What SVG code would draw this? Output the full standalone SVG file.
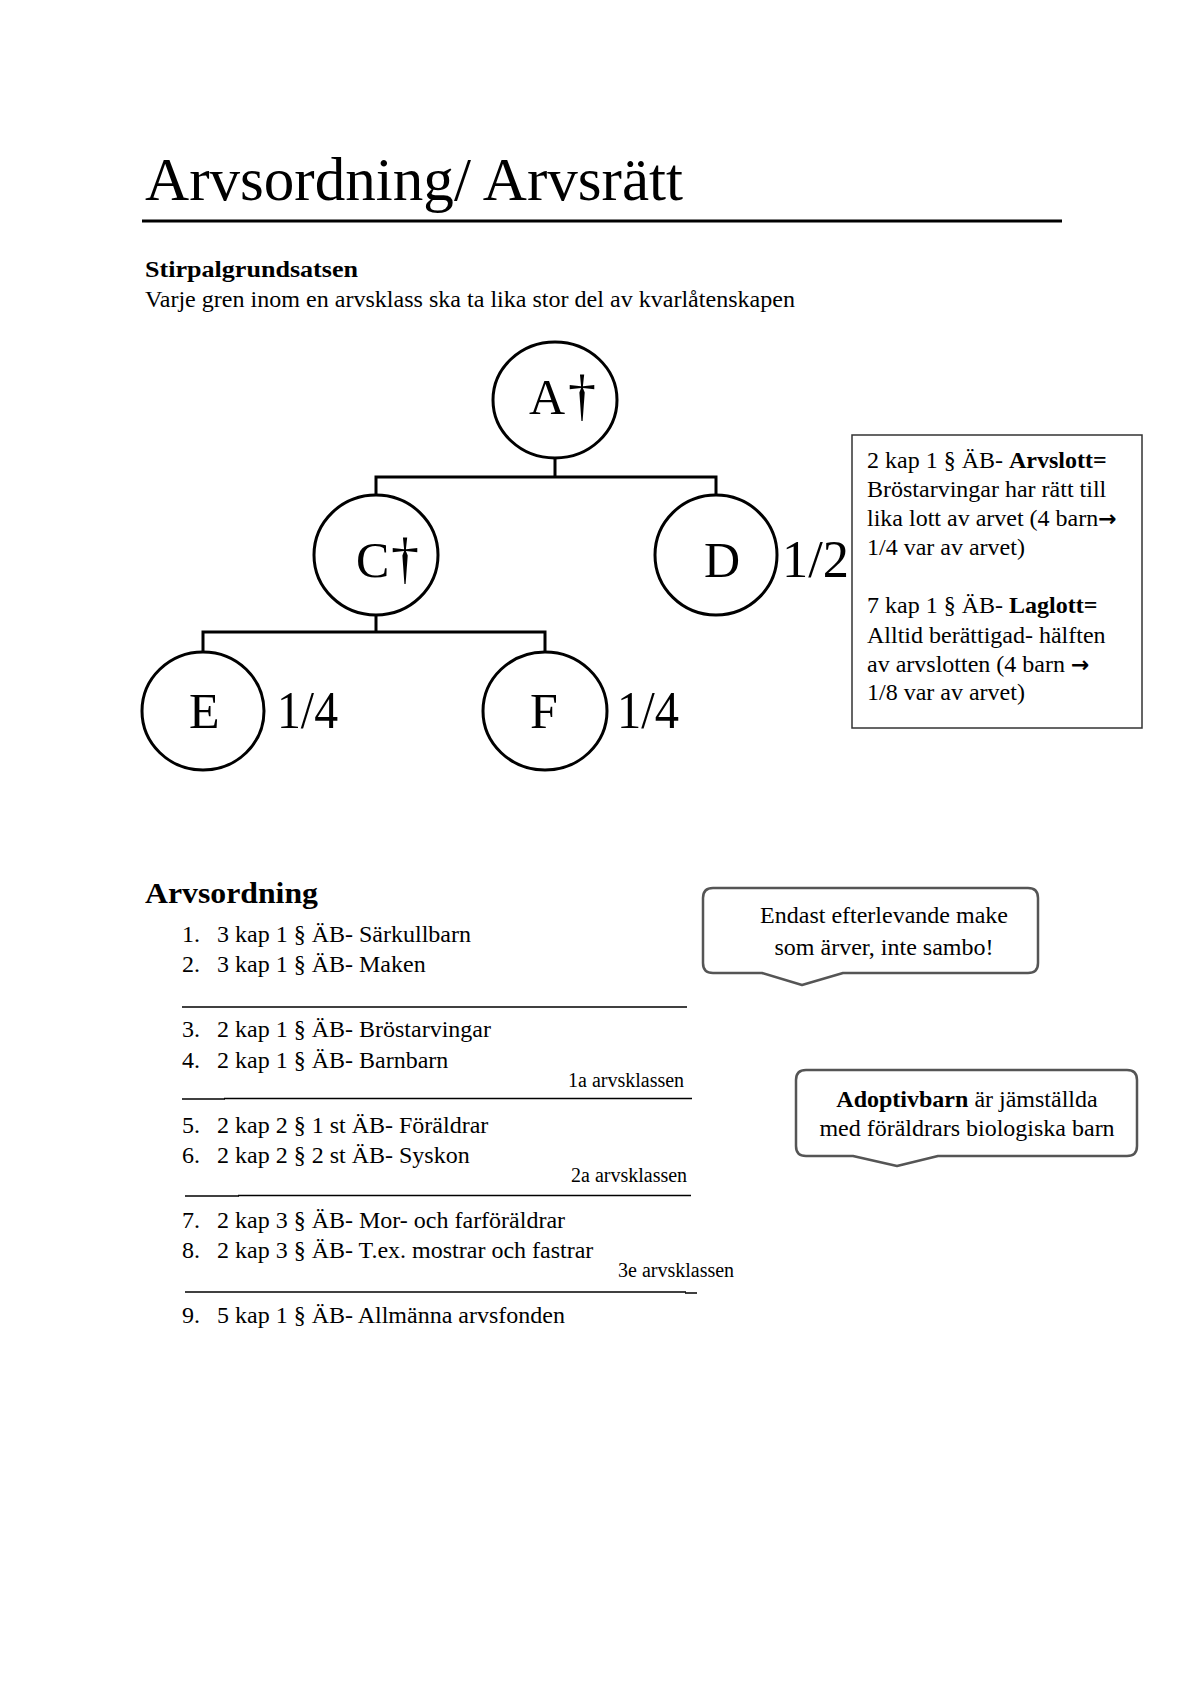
<svg xmlns="http://www.w3.org/2000/svg" width="1200" height="1698" viewBox="0 0 1200 1698">
<style>
text{font-family:"Liberation Serif","Times New Roman",serif;fill:#000}
.b{font-size:24px}
.sm{font-size:20px}
.big{font-size:50px}
.frac{font-size:52px}
.dag{font-size:56px}
.arr{font-family:"DejaVu Sans",sans-serif;font-weight:bold;font-size:22px}
.node{fill:#fff;stroke:#000;stroke-width:3}
.conn{fill:none;stroke:#000;stroke-width:3;stroke-linecap:square}
.rule{stroke:#000;stroke-width:1.5}
.bubble{fill:#fff;stroke:#555;stroke-width:2.5;stroke-linejoin:round}
.mid{text-anchor:middle}
</style>
<rect width="1200" height="1698" fill="#fff"/>
<g id="header">
<text x="145" y="200" font-size="61" textLength="538" lengthAdjust="spacingAndGlyphs">Arvsordning/ Arvsrätt</text>
<line x1="142" y1="221" x2="1062" y2="221" stroke="#000" stroke-width="3"/>
<text x="145" y="277" class="b" font-weight="bold" textLength="213" lengthAdjust="spacingAndGlyphs">Stirpalgrundsatsen</text>
<text x="145" y="307" class="b" textLength="650" lengthAdjust="spacingAndGlyphs">Varje gren inom en arvsklass ska ta lika stor del av kvarlåtenskapen</text>
</g>
<g id="connectors">
<path class="conn" d="M555 458V477M376 477H716M376 477V495M716 477V495"/>
<path class="conn" d="M376 615V632M203 632H545M203 632V652M545 632V652"/>
</g>
<g id="node-A">
<ellipse class="node" cx="555" cy="400" rx="62" ry="58"/>
<text x="529" y="414" class="big">A</text>
<text x="568" y="414" class="dag">†</text>
</g>
<g id="node-C">
<ellipse class="node" cx="376" cy="555" rx="62" ry="60"/>
<text x="356" y="577" class="big">C</text>
<text x="391" y="577" class="dag">†</text>
</g>
<g id="node-D">
<ellipse class="node" cx="716" cy="555" rx="61" ry="60"/>
<text x="704" y="577" class="big">D</text>
<text x="782" y="577" class="frac" textLength="67" lengthAdjust="spacingAndGlyphs">1/2</text>
</g>
<g id="node-E">
<ellipse class="node" cx="203" cy="711" rx="61" ry="59"/>
<text x="189" y="728" class="big">E</text>
<text x="277" y="728" class="frac" textLength="61" lengthAdjust="spacingAndGlyphs">1/4</text>
</g>
<g id="node-F">
<ellipse class="node" cx="545" cy="711" rx="62" ry="59"/>
<text x="530" y="728" class="big">F</text>
<text x="617" y="728" class="frac" textLength="62" lengthAdjust="spacingAndGlyphs">1/4</text>
</g>
<g id="info-box">
<rect x="852" y="435" width="290" height="293" fill="#fff" stroke="#333" stroke-width="1.5"/>
<text x="867" y="468" class="b">2 kap 1 § ÄB- <tspan font-weight="bold">Arvslott=</tspan></text>
<text x="867" y="497" class="b">Bröstarvingar har rätt till</text>
<text x="867" y="526" class="b">lika lott av arvet (4 barn<tspan class="arr">→</tspan></text>
<text x="867" y="555" class="b">1/4 var av arvet)</text>
<text x="867" y="613" class="b">7 kap 1 § ÄB- <tspan font-weight="bold">Laglott=</tspan></text>
<text x="867" y="643" class="b">Alltid berättigad- hälften</text>
<text x="867" y="672" class="b">av arvslotten (4 barn <tspan class="arr">→</tspan></text>
<text x="867" y="700" class="b">1/8 var av arvet)</text>
</g>
<g id="arvsordning-list">
<text x="145" y="903" font-size="30" font-weight="bold" textLength="173" lengthAdjust="spacingAndGlyphs">Arvsordning</text>
<text x="182" y="942" class="b">1.</text><text x="217" y="942" class="b">3 kap 1 § ÄB- Särkullbarn</text>
<text x="182" y="972" class="b">2.</text><text x="217" y="972" class="b">3 kap 1 § ÄB- Maken</text>
<line class="rule" x1="182" y1="1007" x2="687" y2="1007"/>
<text x="182" y="1037" class="b">3.</text><text x="217" y="1037" class="b">2 kap 1 § ÄB- Bröstarvingar</text>
<text x="182" y="1068" class="b">4.</text><text x="217" y="1068" class="b">2 kap 1 § ÄB- Barnbarn</text>
<text x="568" y="1087" class="sm">1a arvsklassen</text>
<line class="rule" x1="182" y1="1099" x2="225" y2="1099"/>
<line class="rule" x1="224" y1="1098.5" x2="692" y2="1098.5"/>
<text x="182" y="1133" class="b">5.</text><text x="217" y="1133" class="b">2 kap 2 § 1 st ÄB- Föräldrar</text>
<text x="182" y="1163" class="b">6.</text><text x="217" y="1163" class="b">2 kap 2 § 2 st ÄB- Syskon</text>
<text x="571" y="1182" class="sm">2a arvsklassen</text>
<line class="rule" x1="185" y1="1196" x2="239" y2="1196"/>
<line class="rule" x1="238" y1="1195.5" x2="691" y2="1195.5"/>
<text x="182" y="1228" class="b">7.</text><text x="217" y="1228" class="b">2 kap 3 § ÄB- Mor- och farföräldrar</text>
<text x="182" y="1258" class="b">8.</text><text x="217" y="1258" class="b">2 kap 3 § ÄB- T.ex. mostrar och fastrar</text>
<text x="618" y="1277" class="sm">3e arvsklassen</text>
<line class="rule" x1="185" y1="1292" x2="686" y2="1292"/>
<line class="rule" x1="685" y1="1293" x2="697" y2="1293"/>
<text x="182" y="1323" class="b">9.</text><text x="217" y="1323" class="b">5 kap 1 § ÄB- Allmänna arvsfonden</text>
</g>
<g id="bubble-make">
<path class="bubble" d="M713 888H1028Q1038 888 1038 898V963Q1038 973 1028 973H843L802 985L762 973H713Q703 973 703 963V898Q703 888 713 888Z"/>
<text x="884" y="923" class="b mid">Endast efterlevande make</text>
<text x="884" y="955" class="b mid">som ärver, inte sambo!</text>
</g>
<g id="bubble-adoptiv">
<path class="bubble" d="M806 1070H1127Q1137 1070 1137 1080V1146Q1137 1156 1127 1156H938L897 1166L853 1156H806Q796 1156 796 1146V1080Q796 1070 806 1070Z"/>
<text x="967" y="1107" class="b mid"><tspan font-weight="bold">Adoptivbarn</tspan> är jämställda</text>
<text x="967" y="1136" class="b mid">med föräldrars biologiska barn</text>
</g>
</svg>
